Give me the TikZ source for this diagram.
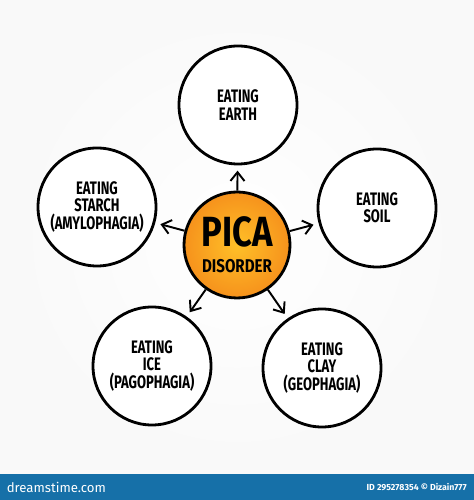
\documentclass[tikz,border=0pt]{standalone}
\usepackage{fontspec}
\setmainfont{Fira Sans}
\newfontfamily\handfont{Fira Sans}[FakeStretch=0.72]
\newfontfamily\bigfont{Fira Sans}[FakeStretch=0.82]
\usetikzlibrary{arrows.meta}
\definecolor{barblue}{RGB}{22,112,168}
\definecolor{picaorange}{RGB}{246,146,28}
\definecolor{picayellow}{RGB}{255,192,40}
\tikzset{
	topic/.style={circle, draw=black, line width=1.6pt, fill=white, minimum size=2.36cm, inner sep=0pt, align=center, font=\handfont\bfseries\fontsize{10.3}{9.9}\selectfont},
	hub/.style={circle, draw=black, line width=1.6pt, minimum size=2.12cm, inner sep=0pt, inner color=picayellow, outer color=picaorange, align=center},
	arr/.style={-{Straight Barb[length=5pt,width=8pt]}, line width=1.1pt, shorten >=3pt}
}

\begin{document}
\begin{tikzpicture}
		%%%%% START %%%%%
		
		\useasboundingbox (0, 0) rectangle (9.48, 10);
		\fill[inner color=white, outer color=gray!5] (0, 0.52) rectangle (9.48, 10);
		
		% hub
		\node[hub] (pica) at (4.74, 5.10) {{\bigfont\bfseries\fontsize{24}{22}\selectfont PICA}\\[3pt]{\bigfont\bfseries\fontsize{10.5}{11}\selectfont DISORDER}};
		
		% topics
		\node[topic] (earth) at (4.76, 7.90) {EATING\\EARTH};
		\node[topic] (starch) at (1.94, 5.86) {EATING\\STARCH\\(AMYLOPHAGIA)};
		\node[topic] (soil) at (7.54, 5.84) {EATING\\SOIL};
		\node[topic] (ice) at (3.04, 2.68) {EATING\\ICE\\(PAGOPHAGIA)};
		\node[topic] (clay) at (6.44, 2.64) {EATING\\CLAY\\(GEOPHAGIA)};
		
		\draw[arr] (pica) -- (earth);
		\draw[arr] (pica) -- (starch);
		\draw[arr] (pica) -- (soil);
		\draw[arr] (pica) -- (ice);
		\draw[arr] (pica) -- (clay);
		
		% bottom bar
		\fill[barblue] (0, 0) rectangle (9.48, 0.52);
		\node[anchor=west, text=white, font=\fontsize{7.5}{8}\selectfont, inner sep=0pt] (site) at (0.13, 0.26) {dreamstime.com};
		\node[anchor=east, text=white, font=\bfseries\fontsize{5}{6}\selectfont, inner sep=0pt] (id) at (9.34, 0.26) {ID 295278354 © Dizain777};
		
		%%%%% END %%%%%
	\end{tikzpicture}
\end{document}
